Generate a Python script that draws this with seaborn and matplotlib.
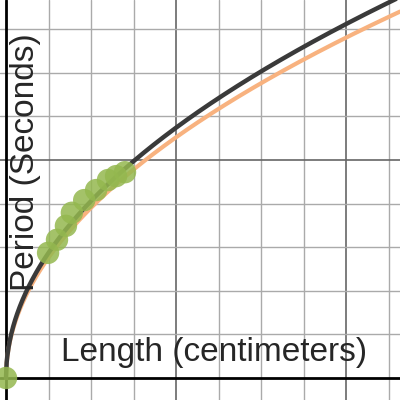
import numpy as np
import matplotlib
matplotlib.use("Agg")
import matplotlib.pyplot as plt
import seaborn as sns
import pandas as pd

length = [0.0, 0.99, 1.2, 1.41, 1.55, 1.84, 2.12, 2.4, 2.59, 2.8]
period = [0.0, 2.87, 3.17, 3.49, 3.79, 4.08, 4.31, 4.54, 4.63, 4.72]
a_black = 2.87
a_orange = 2.76

sns.set_style("white")
plt.rcParams['font.family'] = ['Liberation Sans', 'DejaVu Sans']
fig = plt.figure(figsize=(4, 4), dpi=100)
ax = fig.add_axes([0, 0, 1, 1])
xmin, xmax = -6/42.5, 394/42.5
ymin, ymax = -22/43.6, 378/43.6
for x in np.arange(1, 10):
    ax.axvline(x, color="#aaaaaa" if x % 4 else "#666666", lw=1 if x % 4 else 1.2, zorder=0)
for y in np.arange(1, 9):
    ax.axhline(y, color="#aaaaaa" if y % 5 else "#666666", lw=1 if y % 5 else 1.2, zorder=0)
ax.axhline(0, color="black", lw=2, zorder=1)
ax.axvline(0, color="black", lw=2, zorder=1)
xs = np.linspace(0, xmax, 600)
sns.lineplot(x=xs, y=a_orange*np.sqrt(xs), color="#f8b27f", lw=3, ax=ax, zorder=2)
sns.lineplot(x=xs, y=a_black*np.sqrt(xs), color="#3a3a3a", lw=3.2, ax=ax, zorder=3)
df = pd.DataFrame({"length": length, "period": period})
sns.scatterplot(data=df, x="length", y="period", s=260, color="#94b84f", alpha=0.85, edgecolor="none", ax=ax, zorder=4)
ax.set_xlim(xmin, xmax)
ax.set_ylim(ymin, ymax)
ax.set_xticks([]); ax.set_yticks([])
ax.set_xlabel(""); ax.set_ylabel("")
for s in ax.spines.values():
    s.set_visible(False)
ax.text(0.535, 0.12, "Length (centimeters)", transform=ax.transAxes, ha="center", va="center", fontsize=24)
ax.text(0.065, 0.595, "Period (Seconds)", transform=ax.transAxes, ha="center", va="center", rotation=90, fontsize=24)
fig.savefig("out.png", dpi=100)
